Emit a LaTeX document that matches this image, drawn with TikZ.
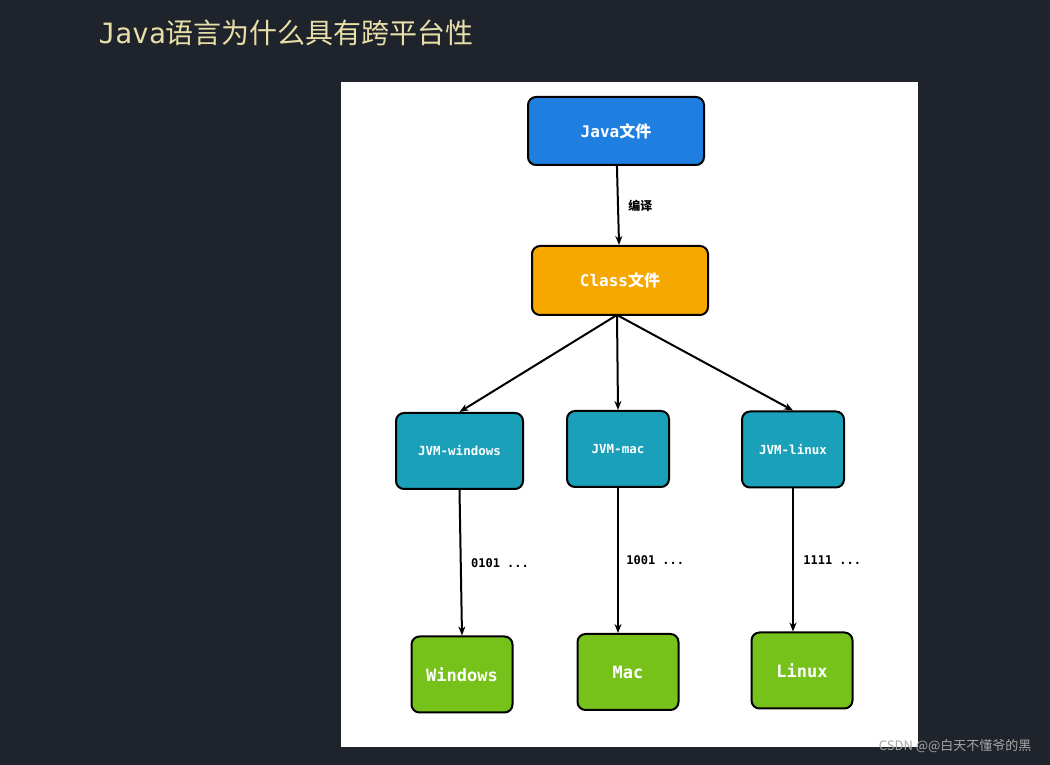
\documentclass[tikz,border=0pt]{standalone}
\usepackage{fontspec}
\setmainfont{DejaVu Sans Mono}
\newfontfamily\cjk{Noto Sans CJK SC}
\usetikzlibrary{arrows.meta}
\definecolor{bg}{HTML}{1F232B}
\definecolor{ttl}{HTML}{E8DFA8}
\definecolor{cblue}{HTML}{1E7FE0}
\definecolor{corange}{HTML}{F7A800}
\definecolor{cteal}{HTML}{1AA0B8}
\definecolor{cgreen}{HTML}{76C21A}
\begin{document}
\begin{tikzpicture}[x=1pt,y=1pt,
  box/.style={draw=black,line width=2pt,rounded corners=8pt,text=white,font=\bfseries\fontsize{16}{18}\selectfont,inner sep=0pt},
  jvm/.style={box,fill=cteal,font=\bfseries\fontsize{12.5}{14}\selectfont,minimum height=76pt},
  os/.style={box,fill=cgreen,minimum width=101pt,minimum height=76pt,font=\bfseries\fontsize{17}{19}\selectfont},
  arr/.style={-{Stealth[length=9pt,width=7pt]},line width=2pt,black},
  lbl/.style={font=\bfseries\fontsize{12}{14}\selectfont,anchor=west}]
\useasboundingbox (0,0) rectangle (1050,765);
\fill[bg] (0,0) rectangle (1050,765);
\fill[white] (341,18) rectangle (918,683);
\node[anchor=west,text=ttl,font=\fontsize{28}{32}\selectfont] (title) at (95,732) {Java{\cjk 语言为什么具有跨平台性}};
\node[box,fill=cblue,minimum width=176pt,minimum height=68pt] (java) at (616,634) {Java{\cjk 文件}};
\node[box,fill=corange,minimum width=176pt,minimum height=69pt] (class) at (620,484.5) {Class{\cjk 文件}};
\node[jvm,minimum width=127pt] (jw) at (459.5,314) {JVM-windows};
\node[jvm,minimum width=102pt] (jm) at (618,316) {JVM-mac};
\node[jvm,minimum width=102pt] (jl) at (793,315.5) {JVM-linux};
\node[os] (w) at (462,90.5) {Windows};
\node[os] (m) at (628,93) {Mac};
\node[os] (l) at (802,94.5) {Linux};
\coordinate (cb) at (617,450);
\draw[arr] (java) -- (class) node[midway,lbl,xshift=6pt,font=\bfseries\cjk\fontsize{12}{14}\selectfont] (c1) {编译};
\draw[arr] (cb) -- (jw.north);
\draw[arr] (cb) -- (jm.north);
\draw[arr] (cb) -- (jl.north);
\draw[arr] (jw.south) -- (w.north) node[midway,lbl,xshift=6pt] (n1) {0101 ...};
\draw[arr] (jm.south) -- (m.north -| jm.south) node[midway,lbl,xshift=4pt] (n2) {1001 ...};
\draw[arr] (jl.south) -- (l.north -| jl.south) node[midway,lbl,xshift=6pt] (n3) {1111 ...};
\node[anchor=east,text=gray!70,font=\cjk\fontsize{13}{15}\selectfont] (wm) at (1035,19) {CSDN @@白天不懂爷的黑};
\end{tikzpicture}
\end{document}
